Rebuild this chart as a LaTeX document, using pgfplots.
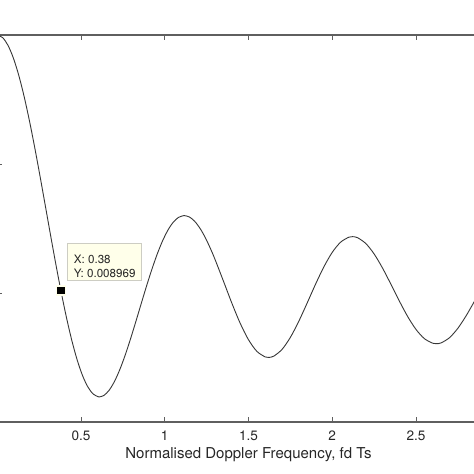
\documentclass[border=0pt]{standalone}
\usepackage{fontspec}
\setmainfont{TeX Gyre Heros}
\usepackage{pgfplots}
\pgfplotsset{compat=1.18}
\definecolor{curvecol}{RGB}{55,55,55}
\definecolor{axiscol}{RGB}{95,95,95}
\definecolor{textcol}{RGB}{38,38,38}
\definecolor{tipfill}{RGB}{255,255,234}
\definecolor{tipedge}{RGB}{205,205,195}
\begin{document}
\begin{tikzpicture}[x=1pt,y=1pt]
\clip (0,0) rectangle (474,474);
\begin{axis}[
  at={(-2.75pt,52pt)}, anchor=south west,
  scale only axis, width=502.5pt, height=387pt,
  xmin=0, xmax=3, ymin=-0.5, ymax=1,
  xtick={0.5,1,1.5,2,2.5},
  ytick={-0.5,0,0.5,1}, yticklabels={},
  tick pos=both, xticklabel pos=lower,
  tick align=inside, major tick length=5pt,
  axis line style={axiscol, line width=1.2pt},
  tick style={axiscol, line width=0.8pt},
  tick label style={textcol, font=\fontsize{13.6}{16}\selectfont},
  /pgf/number format/assume math mode=true,
  xticklabel style={anchor=base, yshift=-18pt},
  xlabel={Normalised Doppler Frequency, fd Ts},
  xlabel style={at={(axis description cs:0.5,0)}, anchor=base,
    yshift=-36.3pt, textcol, font=\fontsize{15}{18}\selectfont},
]
\addplot[curvecol, line width=0.9pt, smooth] coordinates {
(0,1.0) (0.03183,0.99002) (0.06366,0.96040) (0.09549,0.91200)
(0.12732,0.84629) (0.15915,0.76520) (0.19099,0.67113) (0.22282,0.56686)
(0.25465,0.45540) (0.28648,0.33999) (0.31831,0.22389) (0.35014,0.11036)
(0.38197,0.00251) (0.41380,-0.09680) (0.44563,-0.18504) (0.47746,-0.26005)
(0.50930,-0.32019) (0.54113,-0.36430) (0.57296,-0.39177) (0.60479,-0.40256)
(0.60984,-0.40276) (0.63662,-0.39715) (0.66845,-0.37656) (0.70028,-0.34226)
(0.73211,-0.29614) (0.76394,-0.24043) (0.79577,-0.17760) (0.82761,-0.11029)
(0.85944,-0.04121) (0.89127,0.02697) (0.92310,0.09170) (0.95493,0.15065)
(0.98676,0.20175) (1.01859,0.24331) (1.05042,0.27404) (1.08225,0.29310)
(1.11408,0.30008) (1.11657,0.30012) (1.14592,0.29507) (1.17775,0.27860)
(1.20958,0.25160) (1.24141,0.21541) (1.27324,0.17165)
(1.30,0.13039) (1.35,0.04677) (1.40,-0.03830) (1.45,-0.11670)
(1.50,-0.18121) (1.55,-0.22616) (1.60,-0.24789) (1.61917,-0.24970)
(1.65,-0.24506) (1.70,-0.21868) (1.75,-0.17197) (1.80,-0.10998)
(1.85,-0.03906) (1.90,0.03373) (1.95,0.10137) (2.00,0.15751)
(2.05,0.19703) (2.10,0.21654) (2.12054,0.21836) (2.15,0.21464)
(2.20,0.19202) (2.25,0.15132) (2.30,0.09687) (2.35,0.03420)
(2.40,-0.03046) (2.45,-0.09083) (2.50,-0.14118) (2.55,-0.17686)
(2.60,-0.19469) (2.62138,-0.19655) (2.65,-0.19331) (2.70,-0.17321)
(2.75,-0.13668) (2.80,-0.08754) (2.85,-0.03078)
};
% data tip
\draw[tipedge, fill=tipfill, line width=0.8pt]
  (axis cs:0.4164,0.1911) rectangle (axis cs:0.8600,0.0492);
\node[anchor=base west, inner sep=0pt, textcol, font=\fontsize{11.6}{13}\selectfont]
  at (axis cs:0.4564,0.1124) {X: 0.38};
\node[anchor=base west, inner sep=0pt, textcol, font=\fontsize{11.6}{13}\selectfont]
  at (axis cs:0.4564,0.0620) {Y: 0.008969};
\addplot[only marks, mark=square*, mark size=4.5pt,
  mark options={fill=black, draw=tipfill, line width=1.5pt}]
  coordinates {(0.38,0.008969)};
\end{axis}
\end{tikzpicture}
\end{document}
